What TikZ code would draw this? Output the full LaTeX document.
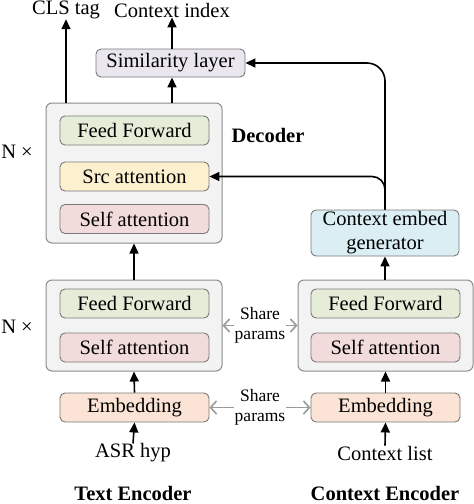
\documentclass[tikz,border=0pt]{standalone}
\usepackage{fontspec}
\setmainfont{Liberation Serif}
\usetikzlibrary{arrows.meta}
\definecolor{boxline}{HTML}{7A7A7A}
\definecolor{outerfill}{HTML}{F3F3F3}
\definecolor{outerline}{HTML}{8C8C8C}
\definecolor{simfill}{HTML}{E9E6F0}
\definecolor{fffill}{HTML}{E5EDD9}
\definecolor{srcfill}{HTML}{FDF0CF}
\definecolor{safill}{HTML}{F2DCDB}
\definecolor{embfill}{HTML}{FBE4D5}
\definecolor{cegfill}{HTML}{DAEEF3}
\definecolor{sharegray}{HTML}{9A9A9A}
\tikzset{
  txt/.style={font=\fontsize{20.5}{22}\selectfont, inner sep=0pt},
  boldtxt/.style={font=\fontsize{20.5}{22}\selectfont\bfseries, inner sep=0pt},
  sharetxt/.style={font=\fontsize{17.5}{20}\selectfont, align=center, fill=white, inner sep=1pt},
  outerbox/.style={draw=outerline, fill=outerfill, line width=1pt, rounded corners=6pt, inner sep=0pt},
  innerbox/.style={draw=boxline, line width=0.9pt, rounded corners=5pt, minimum width=149pt, minimum height=29pt, inner sep=0pt, font=\fontsize{20.5}{22}\selectfont},
  arr/.style={line width=1.6pt, -{Triangle[length=10pt,width=9pt]}},
  garr/.style={draw=sharegray, line width=1.6pt, {Straight Barb[length=6pt,width=13pt]}-{Straight Barb[length=6pt,width=13pt]}}
}
\begin{document}
\begin{tikzpicture}[x=1pt,y=-1pt]
\useasboundingbox (0,0) rectangle (474,504);

% Decoder
\node[outerbox, minimum width=176pt, minimum height=140pt] (dec) at (134,173) {};
\node[innerbox, fill=fffill] (dff) at (134.5,130.5) {Feed Forward};
\node[innerbox, fill=srcfill] (dsrc) at (134.5,176.5) {Src attention};
\node[innerbox, fill=safill] (dsa) at (134.5,219) {Self attention};

% Similarity
\node[innerbox, fill=simfill, minimum width=149pt, minimum height=28pt] (sim) at (170.5,63) {Similarity layer};

% top labels
\node[txt] (cls) at (66,10) {CLS tag};
\node[txt] (cidx) at (172,10) {Context index};

% Text encoder
\node[outerbox, minimum width=176pt, minimum height=91pt] (tenc) at (134,325.5) {};
\node[innerbox, fill=fffill] (tff) at (134.5,303.5) {Feed Forward};
\node[innerbox, fill=safill] (tsa) at (134.5,347.5) {Self attention};
\node[innerbox, fill=embfill] (temb) at (134.5,407.5) {Embedding};

% Context encoder
\node[outerbox, minimum width=175pt, minimum height=91pt] (cenc) at (385.5,325.5) {};
\node[innerbox, fill=fffill] (cff) at (385.5,303.5) {Feed Forward};
\node[innerbox, fill=safill] (csa) at (385.5,347.5) {Self attention};
\node[innerbox, fill=embfill] (cemb) at (385.5,407.5) {Embedding};

% Context embed generator
\node[innerbox, fill=cegfill, minimum width=148pt, minimum height=46pt, align=center, font=\fontsize{20.5}{24}\selectfont] (ceg) at (385,233) {Context embed\\generator};

% other labels
\node[txt] (n1) at (17,152) {N ×};
\node[txt] (n2) at (17,327) {N ×};
\node[boldtxt] (declab) at (268,135) {Decoder};
\node[txt] (asr) at (133,453) {ASR hyp};
\node[txt] (clist) at (385,453) {Context list};
\node[boldtxt] (tlab) at (133,493) {Text Encoder};
\node[boldtxt] (clab) at (385,493) {Context Encoder};

% arrows
\draw[arr] (dec.north -| cls) -- (cls.south);
\draw[arr] (sim.north -| cidx) -- (cidx.south);
\draw[arr] (dec.north -| cidx) -- (sim.south -| cidx);
\draw[arr, rounded corners=18pt] (ceg.north) |- (sim.east);
\draw[arr, rounded corners=13pt] (ceg.north) |- (dsrc.east);
\draw[arr] (tenc.north) -- (dec.south);
\draw[arr] (temb.north) -- (tenc.south);
\draw[arr] (asr.north) -- (temb.south);
\draw[arr] (cenc.north -| ceg) -- (ceg.south);
\draw[arr] (cemb.north) -- (cenc.south);
\draw[arr] (clist.north) -- (cemb.south);

% share params
\draw[garr] (tenc.east) -- (cenc.west);
\node[sharetxt] (sp1) at (260,325) {Share\\params};
\draw[garr] (temb.east) -- (cemb.west);
\node[sharetxt] (sp2) at (260,407) {Share\\params};
\end{tikzpicture}
\end{document}
